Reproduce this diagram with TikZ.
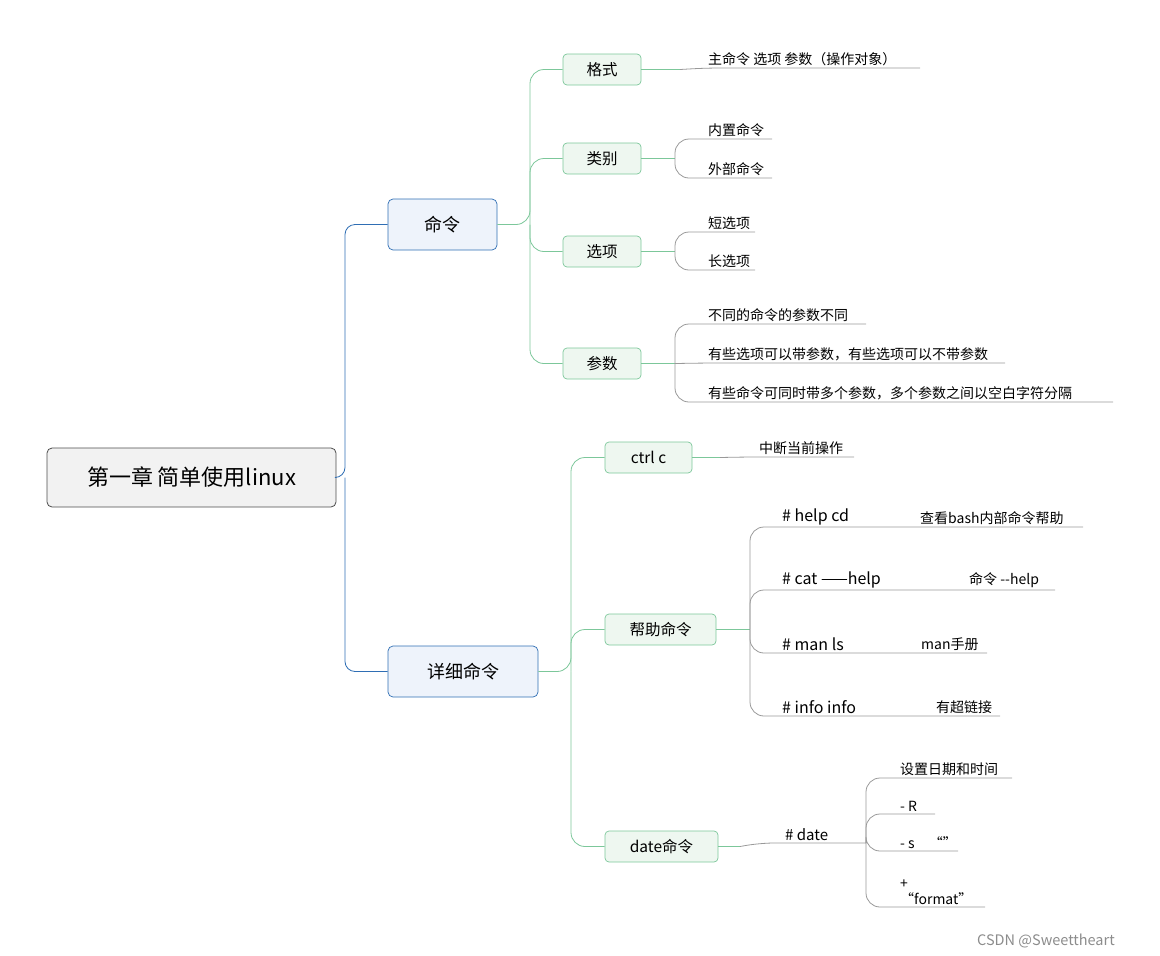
\documentclass[tikz,border=0pt]{standalone}
\usepackage{fontspec}
\setmainfont{Noto Sans CJK SC}
\definecolor{bl}{RGB}{47,110,180}
\definecolor{blf}{RGB}{238,243,251}
\definecolor{gr}{RGB}{124,199,154}
\definecolor{grf}{RGB}{238,247,240}
\begin{document}
\begin{tikzpicture}[x=1pt,y=-1pt,
  rootbox/.style={draw=black!70,fill=black!5,rounded corners=5pt,line width=0.8pt,minimum width=289pt,minimum height=59pt,font=\fontsize{22}{24}\selectfont},
  bluebox/.style={draw=bl,fill=blf,rounded corners=5pt,line width=0.7pt,minimum height=51pt,font=\fontsize{18}{20}\selectfont},
  greenbox/.style={draw=gr,fill=grf,rounded corners=4pt,line width=0.7pt,minimum height=31pt,font=\fontsize{15.5}{17}\selectfont},
  leaf/.style={anchor=south west,inner sep=2pt,font=\fontsize{14}{16}\selectfont},
  lat/.style={leaf,font=\fontsize{16}{18}\selectfont},
  bline/.style={draw=bl,line width=0.8pt,rounded corners=10pt},
  gline/.style={draw=gr,line width=0.8pt,rounded corners=14pt},
  lline/.style={draw=black!40,line width=0.8pt,rounded corners=14pt}]
\useasboundingbox (0,0) rectangle (1160,956);
\node[rootbox] (root) at (191.5,477.5) {第一章 简单使用linux};
\node[bluebox,minimum width=109pt] (cmd) at (442.5,224.5) {命令};
\node[bluebox,minimum width=150pt] (det) at (463,671.5) {详细命令};
\coordinate (rb) at (345,477.5);
\draw[bline] (root.east) -- (rb) |- (cmd.west);
\draw[bline] (rb) |- (det.west);
% command children
\node[greenbox,minimum width=78pt] (fmt) at (602,69.5) {格式};
\node[greenbox,minimum width=78pt] (cls) at (602,158.5) {类别};
\node[greenbox,minimum width=78pt] (opt) at (602,251.5) {选项};
\node[greenbox,minimum width=78pt] (par) at (602,363.5) {参数};
\coordinate (cb) at (530,224.5);
\draw[gline] (cmd.east) -- (cb) |- (fmt.west);
\draw[gline] (cb) |- (cls.west);
\draw[gline] (cb) |- (opt.west);
\draw[gline] (cb) |- (par.west);
% 格式
\node[leaf] (f1) at (706,68) {主命令 选项 参数（操作对象）};
\draw[gline] (fmt.east) -- (680,69.5);
\draw[lline] (680,69.5) -- (706,68) -- (920,68);
% 类别
\node[leaf] (c1) at (706,139) {内置命令};
\node[leaf] (c2) at (706,178) {外部命令};
\coordinate (clb) at (675,158.5);
\draw[gline] (cls.east) -- (clb);
\draw[lline] (clb) |- (c1.south west) -- (772,139);
\draw[lline] (clb) |- (c2.south west) -- (772,178);
% 选项
\node[leaf] (o1) at (706,232) {短选项};
\node[leaf] (o2) at (706,270) {长选项};
\coordinate (olb) at (675,251.5);
\draw[gline] (opt.east) -- (olb);
\draw[lline] (olb) |- (o1.south west) -- (755,232);
\draw[lline] (olb) |- (o2.south west) -- (755,270);
% 参数
\node[leaf] (p1) at (706,324) {不同的命令的参数不同};
\node[leaf] (p2) at (706,363) {有些选项可以带参数，有些选项可以不带参数};
\node[leaf] (p3) at (706,402) {有些命令可同时带多个参数，多个参数之间以空白字符分隔};
\coordinate (plb) at (675,363.5);
\draw[gline] (par.east) -- (plb);
\draw[lline] (plb) |- (p1.south west) -- (866,324);
\draw[lline] (plb) -- (p2.south west) -- (1005,363);
\draw[lline] (plb) |- (p3.south west) -- (1113,402);
% 详细命令 children
\node[greenbox,minimum width=87pt] (ctl) at (648.5,457.5) {ctrl c};
\node[greenbox,minimum width=111pt] (hlp) at (660.5,629.5) {帮助命令};
\node[greenbox,minimum width=113pt] (dat) at (661.5,846.5) {date命令};
\coordinate (db) at (571,671.5);
\draw[gline] (det.east) -- (db) |- (ctl.west);
\draw[gline] (db) |- (hlp.west);
\draw[gline] (db) |- (dat.west);
% ctrl c
\node[leaf] (k1) at (757,457) {中断当前操作};
\draw[gline] (ctl.east) -- (720,457.5);
\draw[lline] (720,457.5) -- (745,457) -- (854,457);
% help
\coordinate (hb) at (750,629.5);
\draw[gline] (hlp.east) -- (hb);
\node[lat] (h1) at (780,527) {\# help cd};
\node[leaf] (h1b) at (918,527) {查看bash内部命令帮助};
\node[lat] (h2) at (780,590) {\# cat ——help};
\node[lat] (h2b) at (967,590) {\fontsize{14}{16}\selectfont 命令 -{}-help};
\node[lat] (h3) at (780,653) {\# man ls};
\node[leaf] (h3b) at (919,653) {man手册};
\node[lat] (h4) at (780,716) {\# info info};
\node[leaf] (h4b) at (934,716) {有超链接};
\draw[lline] (hb) |- (h1.south west) -- (1083,527);
\draw[lline] (hb) |- (h2.south west) -- (1055,590);
\draw[lline] (hb) |- (h3.south west) -- (987,653);
\draw[lline] (hb) |- (h4.south west) -- (1000,716);
% date
\node[leaf,font=\fontsize{15}{17}\selectfont] (d0) at (783,843) {\# date};
\draw[gline] (dat.east) -- (740,846.5);
\draw[lline] (740,846.5) -- (760,843) -- (866,843);
\coordinate (ddb) at (866,843);
\node[leaf] (d1) at (898,778) {设置日期和时间};
\node[leaf] (d2) at (898,814) {- R};
\node[leaf] (d3) at (898,851) {- s\quad “”};
\node[leaf,align=left] (d4) at (898,907) {+\\ “format”};
\draw[lline] (ddb) |- (d1.south west) -- (1012,778);
\draw[lline] (ddb) |- (d2.south west) -- (935,814);
\draw[lline] (ddb) |- (d3.south west) -- (958,851);
\draw[lline] (ddb) |- (d4.south west) -- (985,907);
\node[anchor=south west,inner sep=0pt,text=black!45,font=\fontsize{14.5}{16}\selectfont] (wm) at (977,948) {CSDN @Sweettheart};
\end{tikzpicture}
\end{document}
